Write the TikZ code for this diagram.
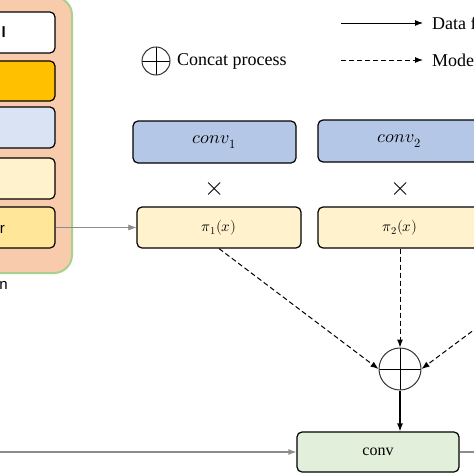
\documentclass[tikz,border=0pt]{standalone}
\usepackage{fontspec}
\usepackage{unicode-math}
\usetikzlibrary{arrows.meta}
\newfontfamily\tms{Liberation Serif}
\newfontfamily\arl{Liberation Sans}
\definecolor{cblue}{HTML}{B4C7E7}
\definecolor{pyel}{HTML}{FFF2CC}
\definecolor{cgreen}{HTML}{E2EFDA}
\definecolor{borange}{HTML}{FFC000}
\definecolor{bblue}{HTML}{DAE3F3}
\definecolor{bgold}{HTML}{FFE699}
\definecolor{panelfill}{HTML}{F8CBAD}
\definecolor{panelline}{HTML}{A9D18E}
\definecolor{lgray}{HTML}{8C8C8C}
\tikzset{
  box/.style={draw=black, line width=1.2pt, rounded corners=5pt, inner sep=0pt},
  arr/.style={-{Latex[length=8pt,width=6pt]}},
  dsh/.style={arr, dash pattern=on 5pt off 3pt, line width=1pt},
  plus/.style={circle, draw=black!80, line width=1pt, inner sep=0pt,
    path picture={\draw[black, line width=1pt] (path picture bounding box.north) -- (path picture bounding box.south)
      (path picture bounding box.west) -- (path picture bounding box.east);}},
}
\begin{document}
\begin{tikzpicture}[x=1pt,y=-1pt]
\useasboundingbox (0,0) rectangle (474,474);
% left panel
\node[draw=panelline, fill=panelfill, line width=2pt, rounded corners=18pt, minimum width=170, minimum height=276, inner sep=0pt] (panel) at (-13,135) {};
\node[box, fill=white, minimum width=160, minimum height=41] (b1) at (-25,32.5) {};
\node[box, fill=borange, minimum width=160, minimum height=40] (b2) at (-25,81) {};
\node[box, fill=bblue, minimum width=160, minimum height=41] (b3) at (-25,127.5) {};
\node[box, fill=pyel, minimum width=160, minimum height=41] (b4) at (-25,178.5) {};
\node[box, fill=bgold, minimum width=160, minimum height=41] (b5) at (-25,227.5) {};
\node[anchor=east, inner sep=0pt, font=\arl\fontsize{15}{15}\selectfont\bfseries] (t1) at (6,32) {l};
\node[anchor=east, inner sep=0pt, font=\arl\fontsize{15}{15}\selectfont] (t5) at (5,229) {r};
\node[anchor=east, inner sep=0pt, font=\arl\fontsize{15}{15}\selectfont] (tn) at (8,285) {n};
% legend
\node[plus, minimum size=28] (lplus) at (156,61) {};
\node[anchor=west, inner sep=0pt, font=\tms\fontsize{18}{18}\selectfont] (lconcat) at (177,61) {Concat process};
\coordinate (ls1) at (341,23);
\coordinate (le1) at (423,23);
\coordinate (ls2) at (341,60);
\coordinate (le2) at (423,60);
\draw[arr, line width=1pt] (ls1) -- (le1);
\draw[dsh] (ls2) -- (le2);
\node[anchor=west, inner sep=0pt, font=\tms\fontsize{18}{18}\selectfont] (ldata) at (432,23) {Data f};
\node[anchor=west, inner sep=0pt, font=\tms\fontsize{18}{18}\selectfont] (lmodel) at (432,60) {Model};
% conv boxes
\node[box, fill=cblue, minimum width=163, minimum height=42, font=\fontsize{18}{18}\selectfont] (c1) at (214.5,142) {$conv_1$};
\node[box, fill=cblue, minimum width=163, minimum height=42, font=\fontsize{18}{18}\selectfont] (c2) at (399.5,141) {$conv_2$};
\node[font=\fontsize{26}{26}\selectfont, inner sep=0pt] (x1) at (215,189) {$\times$};
\node[font=\fontsize{26}{26}\selectfont, inner sep=0pt] (x2) at (401,189) {$\times$};
\node[box, fill=pyel, minimum width=164, minimum height=41, font=\fontsize{15}{15}\selectfont] (p1) at (219,227.5) {$\pi_1(x)$};
\node[box, fill=pyel, minimum width=164, minimum height=41, font=\fontsize{15}{15}\selectfont] (p2) at (400,227.5) {$\pi_2(x)$};
% concat
\node[plus, minimum size=42] (ct) at (400,369) {};
\node[box, fill=cgreen, minimum width=162, minimum height=40, font=\tms\fontsize{16}{16}\selectfont] (cv) at (378,452) {conv};
\coordinate (p3s) at (581,250);
\coordinate (lin) at (-10,452);
\coordinate (lout) at (490,452);
% connectors
\draw[arr, draw=lgray, line width=0.6pt] (b5.east) -- (p1.west);
\draw[dsh] (p1.south) -- (ct.west);
\draw[dsh] (p2.south) -- (ct.north);
\draw[dsh] (p3s) -- (ct.east);
\draw[arr, line width=1.2pt] (ct.south) -- (ct.south |- cv.north);
\draw[arr, draw=lgray, line width=1.2pt] (lin) -- (cv.west);
\draw[draw=lgray, line width=1.2pt] (cv.east) -- (lout);
\end{tikzpicture}
\end{document}
